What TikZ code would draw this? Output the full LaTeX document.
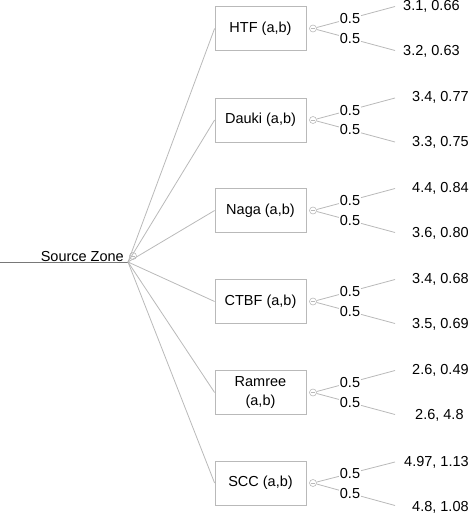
\documentclass[tikz,border=0pt]{standalone}
\usepackage{fontspec}
\setmainfont{Liberation Sans}
\usepackage{xcolor}
\definecolor{linegray}{RGB}{185,185,185}
\definecolor{stemgray}{RGB}{120,120,120}

\begin{document}
\begin{tikzpicture}[x=1pt,y=-1pt,
  every node/.style={font=\fontsize{14.5}{19}\selectfont},
  zone/.style={draw=linegray,line width=0.8pt,minimum width=91pt,minimum height=44pt,align=center,inner sep=2pt},
  chance/.style={circle,draw=linegray,line width=0.6pt,minimum size=7pt,inner sep=0pt,
    path picture={\draw[linegray,line width=0.6pt] ([xshift=-1.8pt]path picture bounding box.center) -- ([xshift=1.8pt]path picture bounding box.center);}},
  prob/.style={inner sep=0.8pt},
  payoff/.style={anchor=west,inner sep=0pt},
  branch/.style={draw=linegray,line width=0.8pt}]
\useasboundingbox (0,0) rectangle (474,514);
\coordinate (stem) at (0,262);
\coordinate (root) at (128,262);
\node[anchor=base east,inner sep=0pt] (source) at (124,261) {Source Zone};
\node[chance] (rootc) at (133,256) {};
\draw[stemgray,line width=0.8pt] (stem) -- (root);
\node[zone] (htf) at (260.5,28.5) {HTF (a,b)};
\node[zone] (dauki) at (260.5,120) {Dauki (a,b)};
\node[zone] (naga) at (260.5,210.5) {Naga (a,b)};
\node[zone] (ctbf) at (260.5,301.5) {CTBF (a,b)};
\node[zone] (ramree) at (260.5,392.5) {Ramree\\(a,b)};
\node[zone] (scc) at (260.5,483) {SCC (a,b)};
\draw[branch] (root) -- (htf.west);
\draw[branch] (root) -- (dauki.west);
\draw[branch] (root) -- (naga.west);
\draw[branch] (root) -- (ctbf.west);
\draw[branch] (root) -- (ramree.west);
\draw[branch] (root) -- (scc.west);
\node[chance] (htfc) at (313,28.5) {};
\node[prob] (htfp1) at (350,18.6) {0.5};
\node[prob] (htfp2) at (350,38.4) {0.5};
\coordinate (htfe1) at (395,6.5);
\coordinate (htfe2) at (395,50.5);
\node[payoff] (htfo1) at (403,6.7) {3.1, 0.66};
\node[payoff] (htfo2) at (403,51.7) {3.2, 0.63};
\draw[branch] (htfc) -- (htfp1) -- (htfe1);
\draw[branch] (htfc) -- (htfp2) -- (htfe2);
\node[chance] (daukic) at (313,120) {};
\node[prob] (daukip1) at (350,110.1) {0.5};
\node[prob] (daukip2) at (350,129.9) {0.5};
\coordinate (daukie1) at (395,98);
\coordinate (daukie2) at (395,142);
\node[payoff] (daukio1) at (412,97.7) {3.4, 0.77};
\node[payoff] (daukio2) at (412,142.3) {3.3, 0.75};
\draw[branch] (daukic) -- (daukip1) -- (daukie1);
\draw[branch] (daukic) -- (daukip2) -- (daukie2);
\node[chance] (nagac) at (313,210.5) {};
\node[prob] (nagap1) at (350,200.6) {0.5};
\node[prob] (nagap2) at (350,220.4) {0.5};
\coordinate (nagae1) at (395,188.5);
\coordinate (nagae2) at (395,232.5);
\node[payoff] (nagao1) at (412,188.3) {4.4, 0.84};
\node[payoff] (nagao2) at (412,233.3) {3.6, 0.80};
\draw[branch] (nagac) -- (nagap1) -- (nagae1);
\draw[branch] (nagac) -- (nagap2) -- (nagae2);
\node[chance] (ctbfc) at (313,301.5) {};
\node[prob] (ctbfp1) at (350,291.6) {0.5};
\node[prob] (ctbfp2) at (350,311.4) {0.5};
\coordinate (ctbfe1) at (395,279.5);
\coordinate (ctbfe2) at (395,323.5);
\node[payoff] (ctbfo1) at (412,279) {3.4, 0.68};
\node[payoff] (ctbfo2) at (412,324.3) {3.5, 0.69};
\draw[branch] (ctbfc) -- (ctbfp1) -- (ctbfe1);
\draw[branch] (ctbfc) -- (ctbfp2) -- (ctbfe2);
\node[chance] (ramreec) at (313,392.5) {};
\node[prob] (ramreep1) at (350,382.6) {0.5};
\node[prob] (ramreep2) at (350,402.4) {0.5};
\coordinate (ramreee1) at (395,370.5);
\coordinate (ramreee2) at (395,414.5);
\node[payoff] (ramreeo1) at (412,370) {2.6, 0.49};
\node[payoff] (ramreeo2) at (415,415) {2.6, 4.8};
\draw[branch] (ramreec) -- (ramreep1) -- (ramreee1);
\draw[branch] (ramreec) -- (ramreep2) -- (ramreee2);
\node[chance] (sccc) at (313,483) {};
\node[prob] (sccp1) at (350,473.5) {0.5};
\node[prob] (sccp2) at (350,493.2) {0.5};
\coordinate (scce1) at (395,462);
\coordinate (scce2) at (395,505.5);
\node[payoff] (scco1) at (404,462.3) {4.97, 1.13};
\node[payoff] (scco2) at (412,507.5) {4.8, 1.08};
\draw[branch] (sccc) -- (sccp1) -- (scce1);
\draw[branch] (sccc) -- (sccp2) -- (scce2);
\end{tikzpicture}
\end{document}
